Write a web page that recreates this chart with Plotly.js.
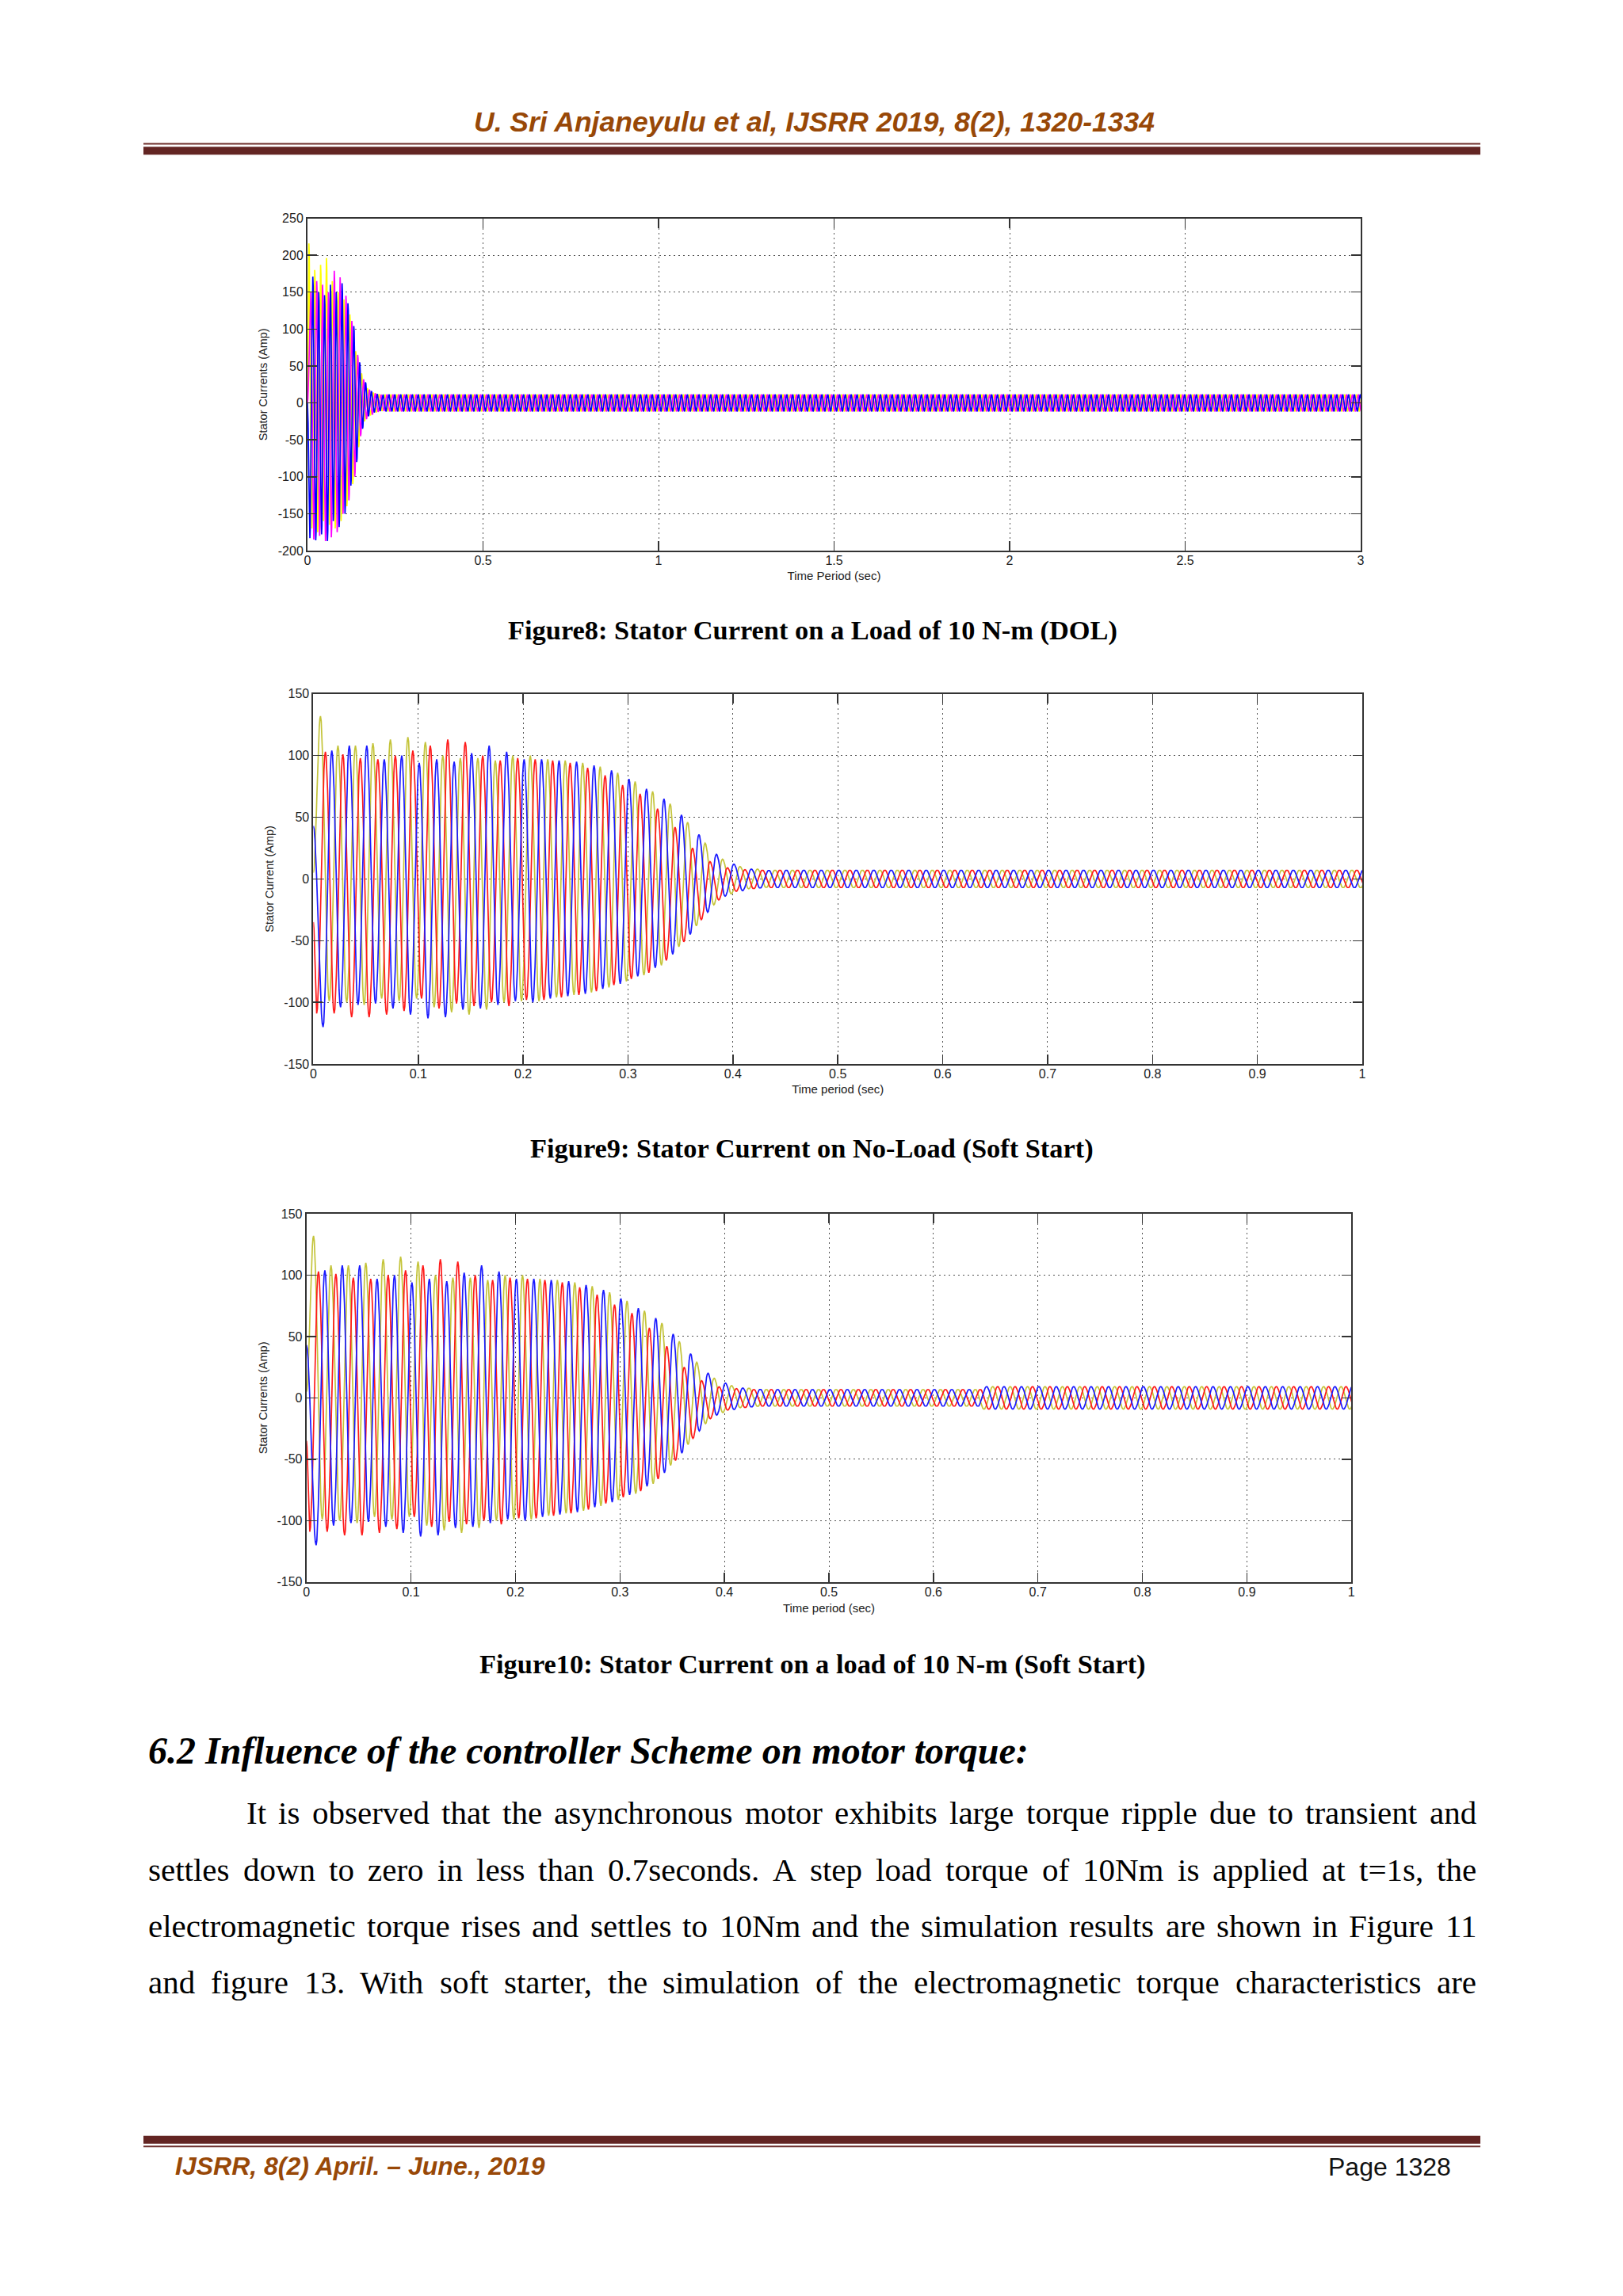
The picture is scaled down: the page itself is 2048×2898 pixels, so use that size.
<!DOCTYPE html>
<html>
<head>
<meta charset="utf-8">
<script src="https://cdn.plot.ly/plotly-3.0.1.min.js"></script>
<style>
html,body{margin:0;padding:0;background:#ffffff;}
#page{width:2048px;height:2898px;}
</style>
</head>
<body>
<div id="page"></div>
<script>
// ---------------- DATA ----------------
const FREQ_HZ = 60;                       // supply frequency seen in all three plots

// Figure 8 : DOL, load 10 N-m  (phases drawn yellow, magenta, blue)
const fig8_x_ticks = [0, 0.5, 1, 1.5, 2, 2.5, 3];
const fig8_x_labels = ['0', '0.5', '1', '1.5', '2', '2.5', '3'];
const fig8_y_ticks = [-200, -150, -100, -50, 0, 50, 100, 150, 200, 250];
const fig8_y_labels = ['-200', '-150', '-100', '-50', '0', '50', '100', '150', '200', '250'];
const fig8_first_peak_t = [0.004, 0.0096, 0.0152];
const fig8_start_value = [0, 0, 0];
const fig8_pre_trough = [null, null, -183];
const fig8_yellow_peaks = [216, 180, 187, 196, 165, 150, 140, 120, 70, 40, 20, 14, 12];
const fig8_yellow_troughs = [-170, -175, -160, -165, -170, -160, -140, -110, -60, -25, -17, -13, -11];
const fig8_magenta_peaks = [150, 165, 160, 150, 179, 170, 145, 111, 65, 32, 18, 13, 11];
const fig8_magenta_troughs = [-185, -180, -187, -182, -175, -150, -132, -100, -45, -22, -16, -12, -11];
const fig8_blue_peaks = [171, 150, 146, 160, 150, 162, 135, 104, 55, 28, 16, 12, 11];
const fig8_blue_troughs = [-186, -178, -187, -160, -168, -150, -112, -80, -35, -18, -13, -11];
const fig8_steady_amp = 11.5;

// Figures 9 and 10 : soft start (same starting transient), phases yellow, red, blue
const soft_first_peak_t = [0.0068, 0.0115, 0.0176];
const soft_start_value = [5, -35, 43];
const soft_pre_trough = [null, -109, -120];
const soft_yellow_peaks = [132, 108, 108, 110, 113, 115, 111, 100, 98, 98, 96, 100, 100, 97, 96, 94, 91, 86, 79, 71, 61, 46, 29, 16, 10, 8];
const soft_yellow_troughs = [-99, -100, -102, -97, -99, -97, -104, -108, -110, -106, -100, -99, -99, -96, -94, -92, -88, -83, -78, -70, -55, -38, -21, -12, -8, -7];
const soft_red_peaks = [103, 101, 98, 97, 100, 104, 108, 113, 111, 100, 96, 98, 97, 96, 94, 90, 84, 76, 69, 57, 42, 25, 14, 9, 7.5];
const soft_red_troughs = [-109, -112, -112, -110, -107, -97, -105, -101, -103, -100, -103, -98, -98, -96, -94, -91, -86, -81, -76, -66, -51, -33, -17, -10, -8];
const soft_blue_peaks = [104, 108, 108, 97, 100, 94, 97, 95, 102, 108, 103, 97, 97, 96, 95, 92, 88, 81, 73, 65, 52, 36, 20, 12, 8, 7];
const soft_blue_troughs = [-104, -102, -101, -105, -110, -113, -112, -106, -105, -102, -99, -100, -97, -95, -93, -89, -85, -79, -72, -61, -45, -27, -14, -9.5, -7.5];

const fig9_x_ticks = [0, 0.1, 0.2, 0.3, 0.4, 0.5, 0.6, 0.7, 0.8, 0.9, 1];
const fig9_x_labels = ['0', '0.1', '0.2', '0.3', '0.4', '0.5', '0.6', '0.7', '0.8', '0.9', '1'];
const fig9_y_ticks = [-150, -100, -50, 0, 50, 100, 150];
const fig9_y_labels = ['-150', '-100', '-50', '0', '50', '100', '150'];
const fig9_steady_amp = 7.2;

const fig10_steady_amp_before = 6.9;
const fig10_steady_amp_after = 9.2;
const fig10_load_time = 0.645;

// ---------------- PAGE GEOMETRY ----------------
const W = 2048, H = 2898, M = 24;          // small uniform margin absorbs axis-label overhang
const px = x => (x - M) / (W - 2 * M);
const py = y => 1 - (y - M) / (H - 2 * M);
const SANS = 'Liberation Sans, Arial, Helvetica, sans-serif';
const SERIF = 'Liberation Serif, Times New Roman, serif';
const HALF = 0.5 / FREQ_HZ;

function extremes(tFirst, pre, peaks, troughs, ampAt, tEnd) {
  const ex = [];
  if (pre !== null) ex.push([tFirst - HALF, pre]);
  const n = Math.max(peaks.length, troughs.length);
  for (let k = 0; k < n; k++) {
    if (k < peaks.length) ex.push([tFirst + 2 * k * HALF, peaks[k]]);
    if (k < troughs.length) ex.push([tFirst + (2 * k + 1) * HALF, troughs[k]]);
  }
  let t = ex[ex.length - 1][0];
  let sign = ex[ex.length - 1][1] > 0 ? -1 : 1;
  while (t < tEnd + 2 * HALF) {
    t += HALF;
    ex.push([t, sign * ampAt(t)]);
    sign = -sign;
  }
  return ex;
}
function wave(start, ex, steps) {
  const xs = [0], ys = [start];
  let a = [0, start];
  for (const b of ex) {
    for (let j = 1; j <= steps; j++) {
      const s = j / steps;
      xs.push(a[0] + (b[0] - a[0]) * s);
      ys.push(a[1] + (b[1] - a[1]) * (1 - Math.cos(Math.PI * s)) / 2);
    }
    a = b;
  }
  return { xs, ys };
}
function trace(w, color, xa, ya, width) {
  return { type: 'scatter', mode: 'lines', x: w.xs, y: w.ys, xaxis: xa, yaxis: ya,
           line: { color: color, width: width }, hoverinfo: 'skip', showlegend: false };
}

const traces = [];
// Figure 8
{
  const amp = () => fig8_steady_amp;
  const P = [fig8_yellow_peaks, fig8_magenta_peaks, fig8_blue_peaks];
  const N = [fig8_yellow_troughs, fig8_magenta_troughs, fig8_blue_troughs];
  const C = ['#ffff00', '#ff00ff', '#0000ff'];
  for (let i = 0; i < 3; i++) {
    const ex = extremes(fig8_first_peak_t[i], fig8_pre_trough[i], P[i], N[i], amp, 3);
    traces.push(trace(wave(fig8_start_value[i], ex, 8), C[i], 'x', 'y', 1.7));
  }
}
// Figures 9 and 10
{
  const P = [soft_yellow_peaks, soft_red_peaks, soft_blue_peaks];
  const N = [soft_yellow_troughs, soft_red_troughs, soft_blue_troughs];
  const C = ['#c4c43a', '#ff1a1a', '#1a1aff'];
  const amp9 = () => fig9_steady_amp;
  const amp10 = t => (t < fig10_load_time ? fig10_steady_amp_before : fig10_steady_amp_after);
  for (let i = 0; i < 3; i++) {
    const ex9 = extremes(soft_first_peak_t[i], soft_pre_trough[i], P[i], N[i], amp9, 1);
    traces.push(trace(wave(soft_start_value[i], ex9, 12), C[i], 'x2', 'y2', 1.7));
  }
  for (let i = 0; i < 3; i++) {
    const ex10 = extremes(soft_first_peak_t[i], soft_pre_trough[i], P[i], N[i], amp10, 1);
    traces.push(trace(wave(soft_start_value[i], ex10, 12), C[i], 'x3', 'y3', 1.7));
  }
}

// ---------------- AXES ----------------
function baseAxis() {
  return {
    ticks: 'inside', ticklen: 12, tickwidth: 1.5, tickcolor: '#333',
    showline: true, linecolor: '#333', linewidth: 2, mirror: 'ticks',
    showgrid: true, gridcolor: '#555', gridwidth: 1, griddash: '2px,4px',
    zeroline: false, fixedrange: true, automargin: true,
    tickfont: { family: SANS, size: 16, color: '#222' }
  };
}
function xAxis(x0, x1, anchor, range, tv, tt, title, standoff) {
  return Object.assign(baseAxis(), {
    domain: [px(x0), px(x1)], anchor: anchor, range: range, ticklabelstandoff: -3,
    tickmode: 'array', tickvals: tv, ticktext: tt,
    title: { text: title, font: { family: SANS, size: 15, color: '#222' }, standoff: standoff }
  });
}
function yAxis(yTop, yBot, anchor, range, tv, tt, title, standoff) {
  return Object.assign(baseAxis(), {
    domain: [py(yBot), py(yTop)], anchor: anchor, range: range,
    tickmode: 'array', tickvals: tv, ticktext: tt,
    title: { text: title, font: { family: SANS, size: 14.5, color: '#222' }, standoff: standoff }
  });
}

// ---------------- TEXT ----------------
const anns = [];
function ann(text, x, y, size, family, color, xanchor, extra) {
  anns.push(Object.assign({ text: text, x: px(x), y: py(y), xref: 'paper', yref: 'paper',
    xanchor: xanchor, yanchor: 'middle', showarrow: false, borderpad: 0, borderwidth: 0,
    font: { family: family, size: size, color: color } }, extra || {}));
}
ann('U. Sri Anjaneyulu et al, IJSRR 2019, 8(2), 1320-1334', 1027, 154, 35.5, SANS, '#984807', 'center',
    { font: { family: SANS, size: 35.5, color: '#984807', weight: 'bold', style: 'italic' } });
const capFont = { family: SERIF, size: 34.4, color: '#000', weight: 'bold' };
ann('Figure8: Stator Current on a Load of 10 N-m (DOL)', 1025, 795, 34.4, SERIF, '#000', 'center', { font: capFont });
ann('Figure9: Stator Current on No-Load (Soft Start)', 1024, 1449, 34.4, SERIF, '#000', 'center', { font: capFont });
ann('Figure10: Stator Current on a load of 10 N-m (Soft Start)', 1025, 2100, 34.4, SERIF, '#000', 'center', { font: capFont });
ann('6.2 Influence of the controller Scheme on motor torque:', 187, 2209, 48, SERIF, '#000', 'left',
    { font: { family: SERIF, size: 48, color: '#000', weight: 'bold', style: 'italic' } });
ann('IJSRR, 8(2) April. \u2013 June., 2019', 221, 2734, 32, SANS, '#984807', 'left',
    { font: { family: SANS, size: 32, color: '#984807', weight: 'bold', style: 'italic' } });
ann('Page 1328', 1831, 2735, 32, SANS, '#111', 'right');

// justified paragraph
const bodyLines = [
  ['It is observed that the asynchronous motor exhibits large torque ripple due to transient and', 311, 2288],
  ['settles down to zero in less than 0.7seconds. A step load torque of 10Nm is applied at t=1s, the', 187, 2360],
  ['electromagnetic torque rises and settles to 10Nm and the simulation results are shown in Figure 11', 187, 2431],
  ['and figure 13. With soft starter, the simulation of the electromagnetic torque characteristics are', 187, 2502]
];
const BODY_SIZE = 41, BODY_RIGHT = 1863;
const ctx = document.createElement('canvas').getContext('2d');
ctx.font = BODY_SIZE + 'px "Liberation Serif", "Times New Roman", serif';
for (const [text, x0, yc] of bodyLines) {
  const words = text.split(' ');
  const widths = words.map(w => ctx.measureText(w).width);
  const total = widths.reduce((a, b) => a + b, 0);
  const gap = (BODY_RIGHT - x0 - total) / (words.length - 1);
  let x = x0;
  words.forEach((w, i) => { ann(w, x, yc, BODY_SIZE, SERIF, '#000', 'left'); x += widths[i] + gap; });
}

// header / footer rules
const RULE = '#632523';
const shapes = [
  [180.6, 182.4, '#6e2e2b'], [185.3, 195.3, RULE],
  [2695.7, 2705.7, RULE], [2708.2, 2710.2, '#6e2e2b']
].map(([y0, y1, c]) => ({ type: 'rect', xref: 'paper', yref: 'paper',
  x0: px(181), x1: px(1868), y0: py(y1), y1: py(y0), fillcolor: c, line: { width: 0 }, layer: 'above' }));

const layout = {
  width: W, height: H, margin: { l: M, r: M, t: M, b: M, pad: 0 },
  paper_bgcolor: '#ffffff', plot_bgcolor: '#ffffff', showlegend: false, hovermode: false,
  xaxis: xAxis(388, 1717, 'y', [0, 3], fig8_x_ticks, fig8_x_labels, 'Time Period (sec)', 6),
  yaxis: yAxis(275.5, 695, 'x', [-200, 250], fig8_y_ticks, fig8_y_labels, 'Stator Currents (Amp)', 10),
  xaxis2: xAxis(395.4, 1719, 'y2', [0, 1], fig9_x_ticks, fig9_x_labels, 'Time period (sec)', 6),
  yaxis2: yAxis(875.8, 1343, 'x2', [-150, 150], fig9_y_ticks, fig9_y_labels, 'Stator Current (Amp)', 9),
  xaxis3: xAxis(386.7, 1705.3, 'y3', [0, 1], fig9_x_ticks, fig9_x_labels, 'Time period (sec)', 7),
  yaxis3: yAxis(1532, 1996.8, 'x3', [-150, 150], fig9_y_ticks, fig9_y_labels, 'Stator Currents (Amp)', 8),
  annotations: anns, shapes: shapes
};
Plotly.newPlot('page', traces, layout, { staticPlot: true, displayModeBar: false });
</script>
</body>
</html>
